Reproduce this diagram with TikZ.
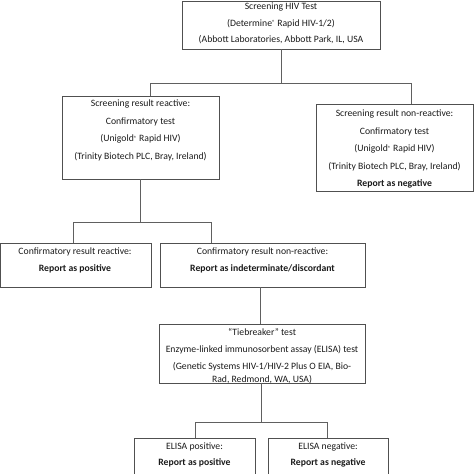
\documentclass[tikz,border=0pt]{standalone}
\usepackage{fontspec}
\setmainfont{Carlito}
\usetikzlibrary{fit}
\definecolor{bordc}{HTML}{505050}
\definecolor{connc}{HTML}{606060}
\definecolor{txtc}{HTML}{1a1a1a}
\newcommand{\regmk}{\raisebox{0.35ex}{\fontsize{6}{6}\selectfont ®}}
\begin{document}
\begin{tikzpicture}[x=1pt,y=-1pt,
  boxst/.style={draw=bordc,line width=0.8pt,inner sep=0pt,fill=none},
  conn/.style={draw=connc,line width=0.8pt},
  txt/.style={anchor=north,inner sep=0pt,align=center,text=txtc,font=\fontsize{9.7}{11.6}\selectfont}]
\useasboundingbox (0,0) rectangle (474,474);
% boxes
\node[boxst,fit={(182,1)(380,49)}] (top) {};
\node[boxst,fit={(62,96)(219,179)}] (reac) {};
\node[boxst,fit={(316,104)(473,191)}] (nonreac) {};
\node[boxst,fit={(0.5,243)(151,287)}] (pos1) {};
\node[boxst,fit={(160,243)(365,287)}] (indet) {};
\node[boxst,fit={(159,324)(365,383)}] (tie) {};
\node[boxst,fit={(134,438)(255,476)}] (elpos) {};
\node[boxst,fit={(268,438)(388,476)}] (elneg) {};
% texts
\node[txt] (ttop) at (281,2.8) {Screening HIV Test\\[4.9pt](Determine\regmk{} Rapid HIV-1/2)\\[4.9pt](Abbott Laboratories, Abbott Park, IL, USA};
\node[txt] (treac) at (140.5,99.8) {Screening result reactive:\\[5.9pt]Confirmatory test\\[5.9pt](Unigold\regmk{} Rapid HIV)\\[5.9pt](Trinity Biotech PLC, Bray, Ireland)};
\node[txt] (tnonreac) at (394.5,109.8) {Screening result non-reactive:\\[5.9pt]Confirmatory test\\[5.9pt](Unigold\regmk{} Rapid HIV)\\[5.9pt](Trinity Biotech PLC, Bray, Ireland)\\[5.9pt]\textbf{Report as negative}};
\node[txt] (tpos1) at (75,247.8) {Confirmatory result reactive:\\[5.4pt]\textbf{Report as positive}};
\node[txt] (tindet) at (262.5,247.8) {Confirmatory result non-reactive:\\[5.4pt]\textbf{Report as indeterminate/discordant}};
\node[txt] (ttie) at (262,327.8) {“Tiebreaker” test\\[5.4pt]Enzyme-linked immunosorbent assay (ELISA) test\\[5.4pt](Genetic Systems HIV-1/HIV-2 Plus O EIA, Bio-\\[1.4pt]Rad, Redmond, WA, USA)};
\node[txt] (telpos) at (194.5,442.8) {ELISA positive:\\[4.4pt]\textbf{Report as positive}};
\node[txt] (telneg) at (328,442.8) {ELISA negative:\\[4.4pt]\textbf{Report as negative}};
% junction coordinates
\coordinate (j1) at (281,83);
\coordinate (j1l) at (150,83);
\coordinate (j1r) at (411,83);
\coordinate (j2) at (140,222);
\coordinate (j2l) at (73,222);
\coordinate (j2r) at (211,222);
\coordinate (j3) at (261,422);
\coordinate (j3l) at (195,422);
\coordinate (j3r) at (327,422);
% connectors
\draw[conn] (top.south) -- (j1);
\draw[conn] (reac.north -| j1l) -- (j1l) -- (j1r) -- (nonreac.north -| j1r);
\draw[conn] (reac.south -| j2) -- (j2);
\draw[conn] (pos1.north -| j2l) -- (j2l) -- (j2r) -- (indet.north -| j2r);
\draw[conn] (indet.south -| 260,0) -- (tie.north -| 260,0);
\draw[conn] (tie.south -| j3) -- (j3);
\draw[conn] (elpos.north -| j3l) -- (j3l) -- (j3r) -- (elneg.north -| j3r);
\end{tikzpicture}
\end{document}
